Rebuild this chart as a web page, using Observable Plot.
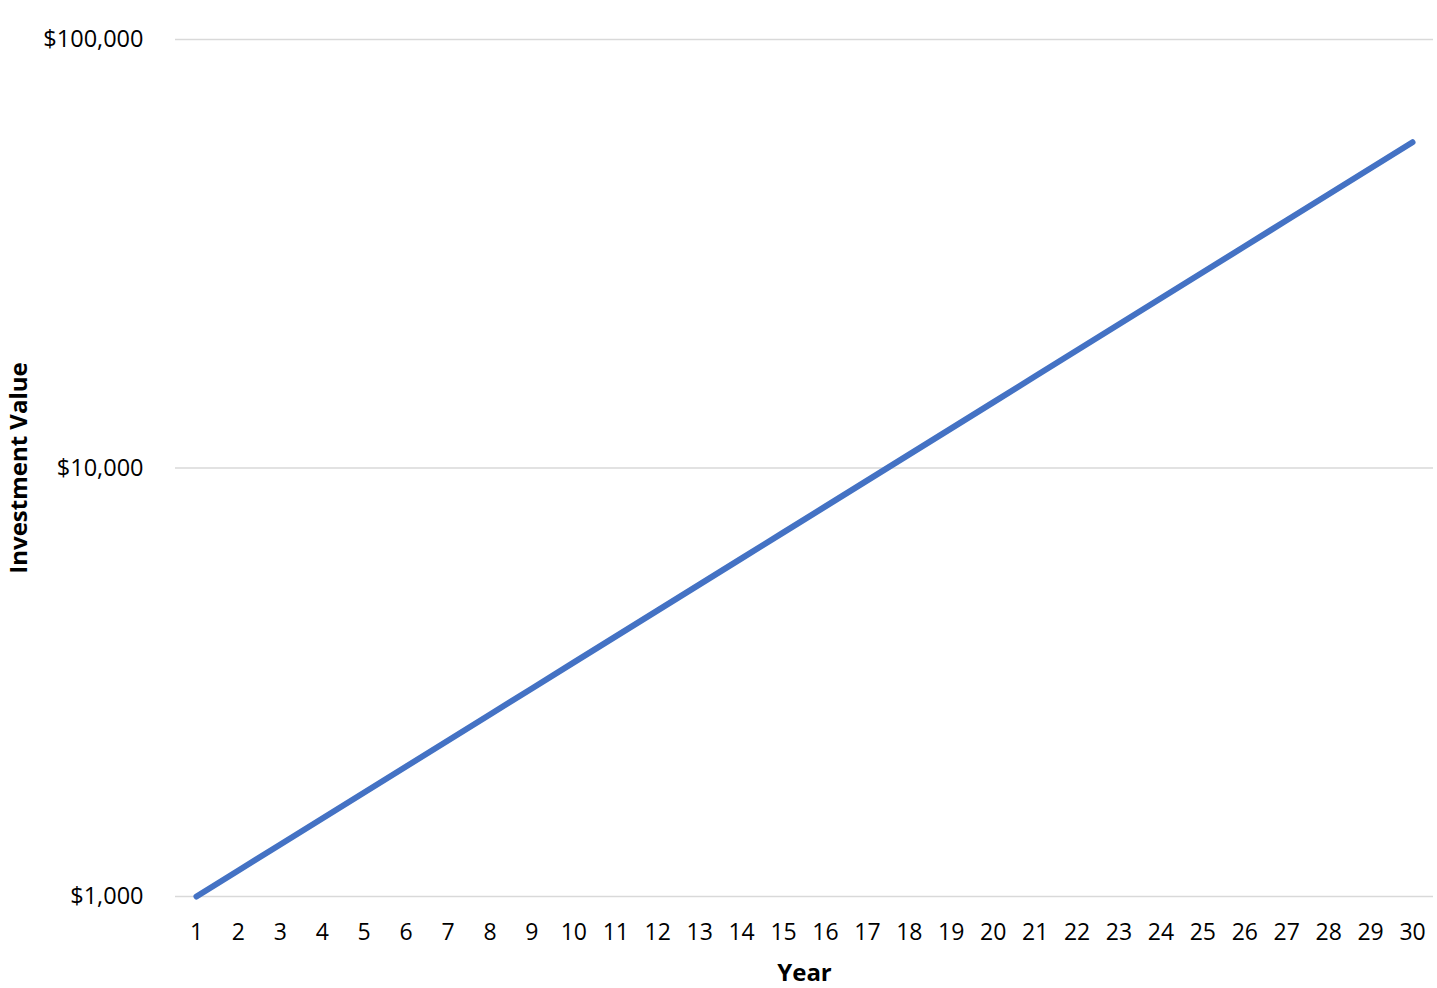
<!DOCTYPE html>
<html>
<head>
<meta charset="utf-8">
<script src="https://cdn.jsdelivr.net/npm/d3@7"></script>
<script src="https://cdn.jsdelivr.net/npm/@observablehq/plot@0.6"></script>
<style>
  html, body { margin: 0; padding: 0; background: #fff; }
  #chart { width: 1437px; height: 988px; }
</style>
</head>
<body>
<div id="chart"></div>
<script>
const years = [1,2,3,4,5,6,7,8,9,10,11,12,13,14,15,16,17,18,19,20,21,22,23,24,25,26,27,28,29,30];
const values = [1000,1150,1322.5,1520.9,1749,2011.4,2313.1,2660,3059,3517.9,4045.6,4652.4,5350.3,6152.8,7075.7,8137.1,9357.6,10761,12375,14232,16367,18822,21645,24891,28625,32919,37857,43535,50066,57575];
const yTicks = [1000, 10000, 100000];
const data = years.map((y, i) => ({year: y, value: values[i]}));
const fmt = d3.format("$,");
const font = "'Open Sans', Lato, sans-serif";

const chart = Plot.plot({
  width: 1437,
  height: 988,
  marginLeft: 175,
  marginRight: 4,
  marginTop: 39,
  marginBottom: 92,
  style: {fontFamily: font, fontSize: "24px", color: "#000", background: "#fff"},
  x: {domain: [0.5, 30.5], axis: null},
  y: {type: "log", domain: [1000, 100000], axis: null},
  marks: [
    Plot.ruleY(yTicks, {stroke: "#d9d9d9", strokeWidth: 1.5}),
    Plot.text(yTicks, {x: 0.5, y: d => d, text: d => fmt(d), textAnchor: "end", dx: -32, fontSize: 23.5, fill: "#000"}),
    Plot.text(years, {x: d => d, y: 1000, text: d => String(d), dy: 36, fontSize: 23, fill: "#000"}),
    Plot.line(data, {x: "year", y: "value", stroke: "#4472C4", strokeWidth: 6, strokeLinecap: "round", strokeLinejoin: "round"}),
    Plot.text(["Year"], {x: 15.5, y: 1000, text: d => d, dy: 77, fontSize: 24, fontWeight: "bold", fill: "#000"}),
    Plot.text(["Investment Value"], {frameAnchor: "left", dx: -156, textAnchor: "middle", text: d => d, rotate: -90, fontSize: 24, fontWeight: "bold", fill: "#000"})
  ]
});
document.getElementById("chart").appendChild(chart);
</script>
</body>
</html>
